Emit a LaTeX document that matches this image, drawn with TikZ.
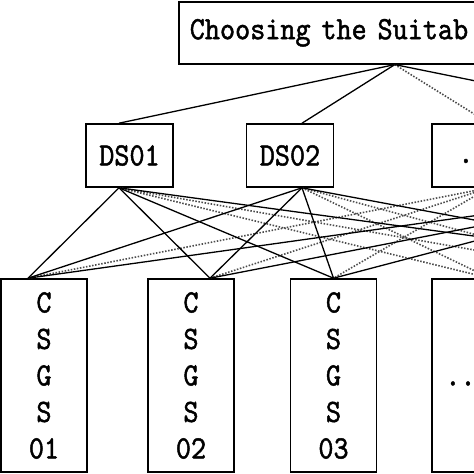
\documentclass[tikz,border=0pt]{standalone}
\usepackage{fontspec}
\newfontfamily\csfont{lmmono10-regular.otf}[FakeStretch=0.885, FakeBold=1.4]
\tikzset{
  lbl/.style={inner sep=0pt, font=\csfont\fontsize{32.5}{36.5}\selectfont},
  box/.style={lbl, draw=black, line width=1.6pt},
  dsbox/.style={box, minimum width=87pt, minimum height=63pt},
  csbox/.style={box, minimum width=86pt, minimum height=193pt, align=center},
  sol/.style={line width=1.3pt, black},
  dotl/.style={line width=1.6pt, black!70, dash pattern=on 1.5pt off 1.6pt},
}
\begin{document}
\begin{tikzpicture}[x=1pt,y=-1pt]
\useasboundingbox (0,0) rectangle (474,474);
\clip (0,0) rectangle (474,474);
% top box
\node[box, anchor=north west, minimum width=432pt, minimum height=62pt,
      text width=410pt, inner xsep=11pt, align=left] (top) at (178,1) {Choosing the Suitab};
% DS boxes
\node[dsbox] (ds1) at (129.5,155.5) {DS01};
\node[dsbox] (ds2) at (290,155.5) {DS02};
\node[dsbox] (ds3) at (475.5,155.5) {};
\node[lbl, anchor=base] (dots3) at (481,163) {...};
% CSGS boxes
\node[csbox] (cs1) at (44,375.5) {C\\S\\G\\S\\01};
\node[csbox] (cs2) at (191,375.5) {C\\S\\G\\S\\02};
\node[csbox] (cs3) at (333.5,375.5) {C\\S\\G\\S\\03};
\node[csbox] (cs4) at (475,375.5) {};
\node[lbl, anchor=base] (dots4) at (468,385.5) {...};
% connection points
\coordinate (t1) at ([xshift=-10.5pt]ds1.north);
\coordinate (t2) at ([xshift=12pt]ds2.north);
\coordinate (t3) at ([xshift=13.5pt]ds3.north);
\coordinate (t4) at (688,124);
\coordinate (a1) at ([xshift=-10.5pt]ds1.south);
\coordinate (a2) at ([xshift=12pt]ds2.south);
\coordinate (a3) at ([xshift=13.5pt]ds3.south);
\coordinate (a4) at (680,187);
\coordinate (b1) at ([xshift=-16pt]cs1.north);
\coordinate (b2) at ([xshift=19pt]cs2.north);
\coordinate (b3) at (cs3.north);
\coordinate (b4) at ([xshift=15pt]cs4.north);
\coordinate (b5) at (640,279);
\coordinate (b6) at (790,279);
% top connectors
\draw[sol] (top.south) -- (t1);
\draw[sol] (top.south) -- (t2);
\draw[dotl] (top.south) -- (t3);
\draw[sol] (top.south) -- (t4);
% dotted connectors
\foreach \a in {a1,a2,a4} \foreach \b in {b4,b5} \draw[dotl] (\a) -- (\b);
\foreach \b in {b1,b2,b3,b4,b5,b6} \draw[dotl] (a3) -- (\b);
% solid connectors
\foreach \a in {a1,a2,a4} \foreach \b in {b1,b2,b3,b6} \draw[sol] (\a) -- (\b);
\end{tikzpicture}
\end{document}
